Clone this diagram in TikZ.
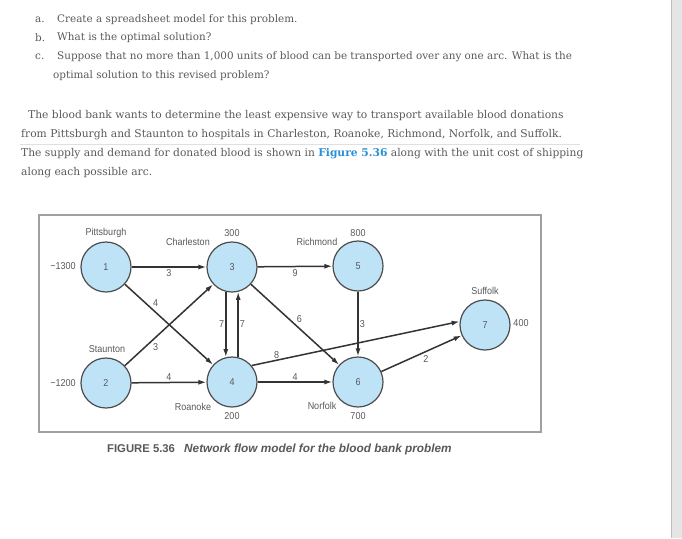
\documentclass[tikz,border=0pt]{standalone}
\usepackage{fontspec}
\setmainfont{DejaVu Serif}
\newfontfamily\figfont{Liberation Sans}[FakeStretch=0.9]
\newfontfamily\capfont{Liberation Sans}
\usetikzlibrary{arrows.meta,positioning}
\definecolor{txtgray}{HTML}{5A5A5A}
\definecolor{linkblue}{HTML}{2B8FD6}
\definecolor{nodeblue}{HTML}{BEE3F7}
\definecolor{framegray}{HTML}{A0A0A0}

\begin{document}
\begin{tikzpicture}[x=1pt,y=-1pt,
  txt/.style={anchor=west,inner sep=0pt,text=txtgray,font=\fontsize{10.7}{12}\selectfont},
  qtxt/.style={txt,font=\fontsize{10.4}{12}\selectfont},
  figcap/.style={anchor=west,inner sep=0pt,text=black!65,font=\capfont\bfseries\fontsize{11.3}{13}\selectfont},
  city/.style={circle,draw=black!70,fill=nodeblue,line width=1.2pt,minimum size=50pt,inner sep=0pt,text=black!65,font=\figfont\fontsize{10}{11}\selectfont},
  lbl/.style={inner sep=1pt,text=black!65,font=\figfont\fontsize{10}{11}\selectfont},
  arc/.style={-{Latex[length=8pt,width=5pt]},line width=1.5pt,draw=black!80}]
\fill[white] (0,0) rectangle (682,538);
\useasboundingbox (0,0) rectangle (682,538);
\fill[black!10] (671,0) rectangle (682,538);
\draw[black!25,line width=1pt] (671,0) -- (671,538);

\node[qtxt] (qa) at (35,20) {a.};
\node[qtxt] (qatext) at (57,20) {Create a spreadsheet model for this problem.};
\node[qtxt] (qb) at (35,38) {b.};
\node[qtxt] (qbtext) at (57,38) {What is the optimal solution?};
\node[qtxt] (qc) at (35,57) {c.};
\node[qtxt] (qctext) at (57,57) {Suppose that no more than 1,000 units of blood can be transported over any one arc. What is the};
\node[qtxt] (qcmore) at (53,76) {optimal solution to this revised problem?};

\node[txt] (para1) at (28,116) {The blood bank wants to determine the least expensive way to transport available blood donations};
\node[txt] (para2) at (21,135) {from Pittsburgh and Staunton to hospitals in Charleston, Roanoke, Richmond, Norfolk, and Suffolk.};
\draw[black!12,line width=0.8pt] (20,144) -- (580,144);
\node[txt] (para3) at (21,154) {The supply and demand for donated blood is shown in \textcolor{linkblue}{\bfseries Figure 5.36} along with the unit cost of shipping};
\node[txt] (para4) at (21,173) {along each possible arc.};

\draw[framegray,line width=2pt] (39,215) rectangle (541,432);

\node[city] (pitt) at (106,267) {1};
\node[city] (staun) at (106,383) {2};
\node[city] (charl) at (232,267) {3};
\node[city] (roan) at (232,382) {4};
\node[city] (rich) at (358,266) {5};
\node[city] (norf) at (358,382) {6};
\node[city] (suff) at (485,325) {7};

\node[lbl] (pittname) at (106,233) {Pittsburgh};
\node[lbl] (pittsup) at (63,266) {−1300};
\node[lbl] (staunname) at (107,349) {Staunton};
\node[lbl] (staunsup) at (63,383) {−1200};
\node[lbl] (charlname) at (188,242) {Charleston};
\node[lbl] (charldem) at (232,233) {300};
\node[lbl] (roanname) at (193,407) {Roanoke};
\node[lbl] (roandem) at (232,416) {200};
\node[lbl] (richname) at (317,242) {Richmond};
\node[lbl] (richdem) at (358,233) {800};
\node[lbl] (norfname) at (322,406) {Norfolk};
\node[lbl] (norfdem) at (358,416) {700};
\node[lbl] (suffname) at (485,291) {Suffolk};
\node[lbl] (suffdem) at (521,323) {400};

\draw[arc] (pitt) -- node[lbl,below=1pt] {3} (charl);
\draw[arc] (charl) -- node[lbl,below=1pt] {9} (rich);
\draw[arc] (pitt) -- node[lbl,pos=0.3,above right] {4} (roan);
\draw[arc] (staun) -- node[lbl,pos=0.3,below right] {3} (charl);
\draw[arc] (charl.256) -- node[lbl,left] {7} (roan.104);
\draw[arc] (roan.76) -- node[lbl,right] {7} (charl.284);
\draw[arc] (charl) -- node[lbl,above right] {6} (norf);
\draw[arc] (rich) -- node[lbl,right] {3} (norf);
\draw[arc] (roan.40) -- node[lbl,pos=0.12,above] {8} (suff.172);
\draw[arc] (staun) -- node[lbl,above] {4} (roan);
\draw[arc] (roan) -- node[lbl,above] {4} (norf);
\draw[arc] (norf) -- node[lbl,below right] {2} (suff);

\node[figcap] (capnum) at (107,449) {FIGURE 5.36};
\node[figcap,font=\capfont\bfseries\itshape\fontsize{11.8}{13}\selectfont] (captext) at (184,449) {Network flow model for the blood bank problem};
\end{tikzpicture}
\end{document}
